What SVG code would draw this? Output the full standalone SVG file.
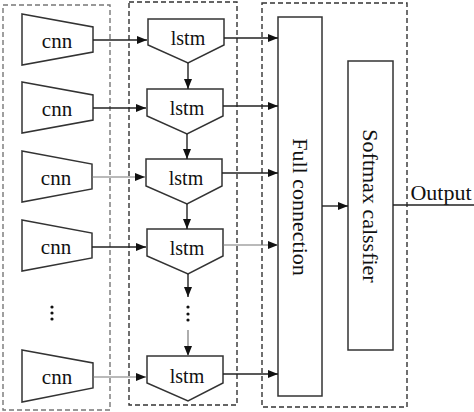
<svg xmlns="http://www.w3.org/2000/svg" width="474" height="412" viewBox="0 0 474 412">
<style>
.box{fill:#fff;stroke:#333;stroke-width:1.5}
.dash{fill:none;stroke:#333;stroke-width:1.4;stroke-dasharray:5,3}
.dashg{fill:none;stroke:#777;stroke-width:1.4;stroke-dasharray:5,3}
.con{stroke:#222;stroke-width:1.4;fill:none}
.lt{stroke:#777;stroke-width:1.2;fill:none}
.t{font-family:"Liberation Serif","Times New Roman",serif;fill:#111;text-anchor:middle}
</style>
<defs>
<marker id="ah" viewBox="0 0 10 8" refX="10" refY="4" markerWidth="10" markerHeight="8" markerUnits="userSpaceOnUse" orient="auto">
<path d="M0,0L10,4L0,8Z" fill="#111"/>
</marker>
</defs>
<rect class="dashg" x="3" y="5" width="107" height="405"/>
<rect class="dash" x="129" y="2" width="108" height="403"/>
<rect class="dash" x="262" y="3" width="145" height="404"/>
<g id="cnn1"><path class="box" d="M22,14L93,27L93,52L22,65Z"/><text class="t" x="57" y="48" font-size="21">cnn</text></g>
<g id="cnn2"><path class="box" d="M22,82L93,95L93,120L22,133Z"/><text class="t" x="57" y="116" font-size="21">cnn</text></g>
<g id="cnn3"><path class="box" d="M22,151L92,164L92,189L22,202Z"/><text class="t" x="56" y="185" font-size="21">cnn</text></g>
<g id="cnn4"><path class="box" d="M22,220L92,233L92,258L22,271Z"/><text class="t" x="56" y="254" font-size="21">cnn</text></g>
<g id="dots1"><circle cx="52" cy="307" r="1.6" fill="#111"/><circle cx="52" cy="313" r="1.6" fill="#111"/><circle cx="52" cy="319" r="1.6" fill="#111"/></g>
<g id="cnn5"><path class="box" d="M22,350L93,363L93,388L22,402Z"/><text class="t" x="57" y="384" font-size="21">cnn</text></g>
<g id="lstm1"><path class="box" d="M148,19L224,19L224,45L188,63L148,45Z"/><text class="t" x="188" y="45" font-size="20">lstm</text></g>
<g id="lstm2"><path class="box" d="M147,89L223,89L223,116L187,134L147,116Z"/><text class="t" x="187" y="115" font-size="20">lstm</text></g>
<g id="lstm3"><path class="box" d="M146,159L222,159L222,186L187,204L146,186Z"/><text class="t" x="186" y="185" font-size="20">lstm</text></g>
<g id="lstm4"><path class="box" d="M147,229L223,229L223,256L188,274L147,256Z"/><text class="t" x="187" y="255" font-size="20">lstm</text></g>
<g id="dots2"><circle cx="188" cy="307" r="1.6" fill="#111"/><circle cx="188" cy="314" r="1.6" fill="#111"/><circle cx="188" cy="320" r="1.6" fill="#111"/></g>
<g id="lstm5"><path class="box" d="M147,356L223,356L223,383L188,401L147,383Z"/><text class="t" x="187" y="383" font-size="20">lstm</text></g>
<g id="fc"><rect class="box" x="278" y="17" width="44" height="379"/><text class="t" font-size="22" transform="translate(300,207) rotate(90)" x="0" y="7">Full connection</text></g>
<g id="softmax"><rect class="box" x="348" y="61" width="45" height="289"/><text class="t" font-size="22" transform="translate(370,206) rotate(90)" x="0" y="7">Softmax calssfier</text></g>
<g id="output"><text class="t" x="441" y="200" font-size="22">Output</text></g>
<g id="connectors">
<path class="con" d="M93,40H147" marker-end="url(#ah)"/>
<path class="con" d="M93,108H146" marker-end="url(#ah)"/>
<path class="lt" d="M92,177H145" marker-end="url(#ah)"/>
<path class="con" d="M92,247H146" marker-end="url(#ah)"/>
<path class="lt" d="M93,377H146" marker-end="url(#ah)"/>
<path class="con" d="M188,63V89" marker-end="url(#ah)"/>
<path class="con" d="M187,134V159" marker-end="url(#ah)"/>
<path class="con" d="M187,204V229" marker-end="url(#ah)"/>
<path class="con" d="M188,274V297" marker-end="url(#ah)"/>
<path class="lt" d="M188,330V356" marker-end="url(#ah)"/>
<path class="con" d="M224,38H278" marker-end="url(#ah)"/>
<path class="con" d="M223,106H278" marker-end="url(#ah)"/>
<path class="con" d="M222,173H278" marker-end="url(#ah)"/>
<path class="lt" d="M223,245H278" marker-end="url(#ah)"/>
<path class="con" d="M223,374H278" marker-end="url(#ah)"/>
<path class="con" d="M322,206H348" marker-end="url(#ah)"/>
<path class="con" d="M393,205H474"/>
</g>
</svg>
